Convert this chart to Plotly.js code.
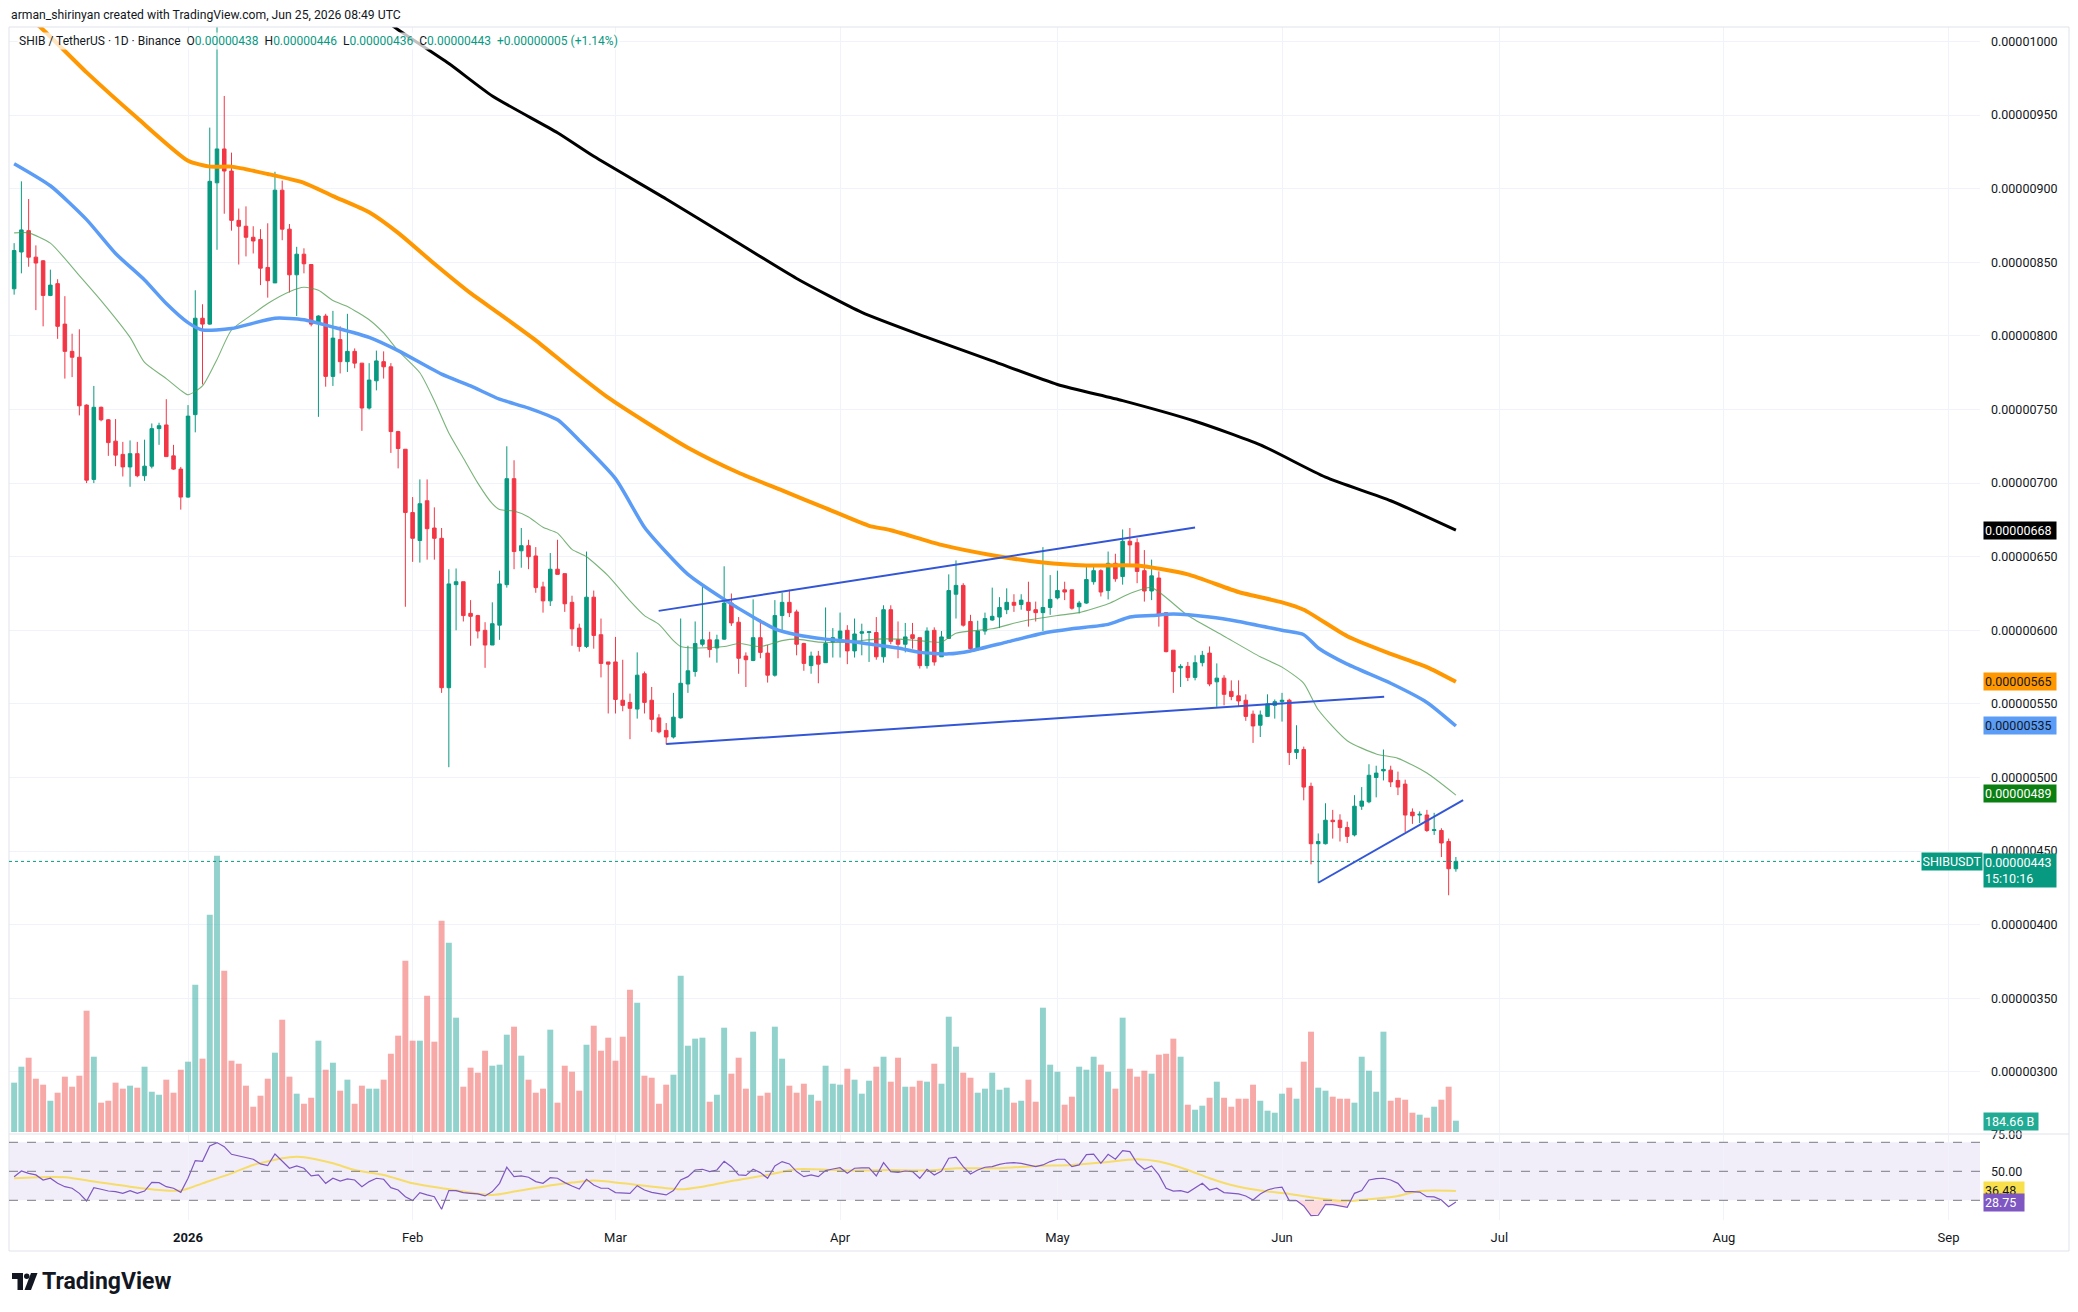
<!DOCTYPE html>
<html><head><meta charset="utf-8">
<script src="https://cdn.plot.ly/plotly-3.0.1.min.js"></script>
<style>html,body{margin:0;padding:0;background:#fff;}#chart{width:2078px;height:1312px;}</style>
</head><body><div id="chart"></div>
<script>
// ---- DATA (prices in units of 1e-8 USDT) ----
const UNIT = 1e-8;
const START_DATE = [2025, 11, 8]; // 2025-12-08, one candle per day
const openP = [832,857,871.5,853.5,851,827.5,835.5,808,789.5,785.5,753,702.5,751.5,743,728.5,719.5,711,720,705,711.5,737,739.5,718.5,709.5,690.5,746.5,812,808,904,927,912,878.5,874.5,867,865.5,846.5,836,899,872.5,841.5,855.5,848.5,809,813.5,772.5,797.5,782.5,789.5,781.5,751,769.5,782.5,779,735,723,680,661,688,669.5,662.5,561,631,633,611.5,610,600,590,603.5,631,703,654,657.5,650.5,629.5,620,641.5,638.5,619,601.5,589,622.5,597,578.5,578.5,552.5,551,546.5,570.5,552.5,540.5,532,527.5,540.5,563.5,572,590.5,593.5,588,594,618.5,605.5,582.5,579.5,595,584.5,569.5,610,619,612.5,591,576,582.5,578,592,594.5,600,586,598,598.5,598.5,582,614,593.5,590.5,597,595,576,600,582,594.5,624.5,630.5,606,587.5,599.5,607,609,614,619,617.5,619,614,612,615.5,622,627.5,627.5,616,618.5,633,640.5,627,645.5,636.5,660.5,659.5,640.5,626.7,635.5,612,586.5,574.5,575.5,568,578,584.5,565,567.5,558.5,555.5,552.5,543,535.5,541.5,549,551.5,552.5,517,519,494,455,455,471,471,466,461,480.5,483.5,500,504.5,505,498,495.5,476.5,474.5,474.5,464,464,456.5,438];
const highP = [863,905,893,861.5,851.5,845,838.5,827,801.5,804.5,753.5,766,752,743.5,743.5,728,729,728,729.5,740.5,741,757,726,711,753,831,821.5,941.5,1012,963,924.5,886.5,888,874.5,872.5,876.5,911.5,905.5,876,860.5,859.5,848.5,814,815,817,806.5,815,791.5,781.5,781.5,790,789.5,781.5,735.5,723,690.5,702.5,702.5,683.5,669.5,641.5,642,633,620.5,610.5,605.5,619,640.5,725,715.5,669.5,661.5,656.5,633,652.5,661.5,638.5,623.5,604.5,653.5,627,608,578.5,595.5,580,557,585,572,561.5,543,537,557.5,608,589.5,606,629.5,599,597,643.5,625,609,585,621,607.5,590,620.5,625.5,627.5,614,591.5,585.5,586,615.5,601.5,612,603.5,608,604.5,599.5,609,617,617,606,605,605,595,602,602,599.5,638,647.5,632,610.5,606.5,612,629,622.5,628.5,624.5,624.5,633,619.5,656.5,637.5,640.5,633,627.5,620,643,644.5,641.5,653.5,652,668.5,669.5,662.5,654.5,648,640,612,586.5,577,578.5,583,586,589,577.5,569.5,566,566,556.5,545.5,545.5,556.5,553,557.5,553.5,535.5,521,496.5,462,482.5,478,475,470,488,493.5,509,508,519,508,504,498.5,479,477,478,476,465.5,458.5,446];
const lowP = [828,842.5,847,817.5,806.5,827,798,771,772,746,700,700,742,718.5,711.5,704.5,697.5,704,701.5,710,726,718,709,682,690,734.5,767,807.5,858.5,883,871.5,848.5,854,856,834.5,826,836,865,829.5,813.5,842.5,806.5,745,765.5,766,774.5,775.5,778,735.5,750,763,771,720.5,710,616,646.5,646,648,648,557.5,507,600,606,589.5,594.5,574.5,590,593.5,629,641.5,642.5,641.5,625.5,612,616.5,638,612.5,589.5,585.5,588,587.5,568,543.5,543.5,545,526,540,543.5,531,530,522.5,526.5,540,557.5,568.5,589,581.5,578,593.5,603,570.5,561.5,579,581,564.5,568.5,599,609,583,572.5,570.5,564,578,581.5,581.5,577,581.5,583,578.5,580,578,590.5,581,585,587.5,574,574,576,582,594.5,608,602.5,585.5,586,597,606.5,601.5,611,612.5,614,602.5,606,599.5,610.5,621,620.5,614,611.5,618,631,623,621,633,631,645,632,619.5,620.5,602.5,585,557.5,561.5,565.5,566,575.5,562,548,549,552.5,548,538.5,523.5,527.5,541.5,540,538,508.5,512.5,484.5,441,428.5,454.5,458.5,456.5,455.5,460,478,482.5,486.5,498,493.5,488,463,468.5,469,463,461,446,420,436];
const closeP = [858,872,853.5,849.5,827.5,834.5,806.5,789.5,785.5,752.5,702,751.5,743,727.5,719,711,720,705,711.5,737,739,718,709.5,690.5,745.5,812,808,905,927,912,878.5,874.5,867,864.5,846,837.5,899,872.5,841.5,855.5,849,808,813.5,772.5,798.5,782.5,789.5,781.5,751,770,783,779,735,723.5,680,662.5,686,669,662.5,561,631.5,633,610,609.5,599.5,590,604.5,631.5,703,653.5,657.5,650,629,620,641.5,638,618,601,589,622.5,596.5,577.5,577,553,549,547,569.5,551,539.5,531,527.5,541,564,572.5,591,593.5,587,593.5,618.5,605,581,580,595,585,569.5,610,619,612,590.5,577.5,582.5,577,591,595,599.5,586,597.5,599,599,582,614,592.5,590.5,595.5,594.5,576,599.5,578.5,595.5,627,630.5,603.5,587.5,599.5,608,609.5,615.5,619,617,620.5,613.5,612,615.5,621,627,626,615,618.5,634.5,640.5,626,645.5,635,660.5,658,640,626.7,637,611,585.5,572,575.5,568,578,583,563.5,567.5,556.5,555,552,541.5,535,542.5,550,551.5,552.5,517,519,493.5,455,456.5,471,470,466,460,480.5,484,501.5,503,505.5,497,493.5,474.5,474,475,464,464.5,455.5,438,443];
// Volume in billions of SHIB
const volumeB = [806,1067,1214,871,773,511,642,904,740,920,1982,1230,479,511,806,708,757,724,1067,658,609,855,642,1018,1149,2407,1198,3551,4515,2636,1165,1116,757,413,593,871,1296,1835,904,626,462,560,1492,1018,1132,675,855,462,757,708,708,855,1279,1574,2799,1492,1492,2227,1476,3453,3093,1868,740,1051,969,1328,1083,1100,1590,1721,1247,855,642,708,1672,479,1083,985,675,1426,1737,1328,1541,1165,1557,2325,2113,920,887,462,773,936,2554,1410,1525,1541,495,609,1704,953,1214,708,1639,593,642,1721,1198,757,642,789,609,511,1083,789,773,1034,855,626,838,1067,1230,822,1214,740,740,838,822,1116,789,1884,1394,969,887,642,708,969,691,724,479,511,855,495,2031,1100,985,446,577,1067,1018,1230,1100,985,708,1868,1034,904,1002,953,1263,1279,1525,1230,446,364,430,560,822,560,413,544,544,773,511,348,315,626,724,544,1149,1639,724,675,577,544,544,479,1230,1002,658,1639,511,560,528,315,283,234,413,528,740,184.66];
// Moving averages read at sampled candle indices
const ma200Idx = [30,40,46,53,60,66,75,80,90,99,108,117,126,135,144,153,163,172,181,190,199];
const ma200Val = [1090,1055,1033,1008,985,963,938,922,893,866,839,816,799,783,767,756,742,726,704,688,668];
const ma100Idx = [0,4,10,17,24,27,30,35,40,44,49,53,58,63,67,72,77,82,87,93,100,106,112,118,121,128,135,142,148,155,162,169,175,178,184,190,195,199];
const ma100Val = [1025,1008,979,948,919,915,915,910,904,895,884,870,849,829,815,797,777,758,742,724,707,695,683,671,668,658,651,646,644,644,638,626,619,614,596,584,575,565];
const ma50Idx = [0,5,10,14,18,21,24,26,30,36,40,44,49,53,59,63,67,71,75,78,83,87,90,93,98,102,105,108,112,116,119,122,125,129,132,137,142,146,151,154,157,160,165,169,175,178,180,184,190,195,199];
const ma50Val = [917,902,879,856,838,822,809,804,805,812,811,806,799,790,774,766,757,751,743,729,703,670,653,638,621,609,601,597,594,592,590,588,585,584,586,592,598,601,604,609,610,611,609,606,600,597,588,577,564,551,535];
const ma20Idx = [0,2,5,9,12,16,18,21,23,24,26,28,30,33,35,38,40,42,44,46,49,51,53,56,58,60,62,64,66,67,69,71,73,75,77,79,82,85,87,89,91,92,94,98,100,103,106,108,111,115,119,122,125,128,130,135,139,144,147,151,154,157,162,167,172,175,178,180,184,188,191,195,199];
const ma20Val = [870,870,863,841,824,799,782,771,763,760,766,784,804,815,822,830,833,831,824,820,811,802,790,775,756,734,717,700,686,682,681,677,670,666,655,650,637,620,610,604,593,589,588,589,591,589,593,594,592,592,594,594,593,592,598,601,606,610,612,618,625,629,610,596,582,575,564,546,525,516,513,503,488];
// RSI (14) and its moving average
const rsi = [46.3,50.2,48.6,47.5,44,45.2,41.7,39.4,38.3,34.8,29.5,38.7,37.6,36.4,36,34.8,36.7,34.8,36.4,42.4,42.2,39.4,38.3,35.5,45.2,57.4,56.9,67.5,69.8,67,61.7,60.6,59.4,58.3,55.1,53.9,61.9,56.7,52.1,53.7,52.1,46.8,47.5,41.7,45.2,43.3,44.7,44,39.4,42.9,45.2,44.5,38.7,37.1,32.5,29.8,35.3,33.7,32.5,23.8,36.7,36.7,35.3,34.8,34.4,33,36,41.7,52.8,46.3,46.8,45.9,42.9,41.7,45.6,45.2,42.2,39.9,37.8,44.5,40.6,38.3,38.3,35.3,34.8,34.8,40.1,37.1,35.5,34.4,33.7,36.7,44,46.3,50.9,51.4,49.8,50.9,56.9,53.2,47.5,47.2,51.4,49.1,45.2,53.7,56.7,55.1,49.8,46.3,47.5,46.3,50.5,51.6,52.5,48.6,52.1,52.3,52.3,46.8,56,49.8,49.3,50.2,49.8,45.2,51.4,47.5,50.2,59,59.7,53.2,48.2,50.9,52.8,53.2,54.8,55.7,56,55.5,54.1,53.2,54.4,56.7,58.3,58.3,53.2,54.4,61.5,61.9,55.5,61.7,58.3,64.2,63.6,55.5,51.4,53.7,47.5,38.3,36.4,36.7,35.3,38.3,41.7,37.1,38.3,35.3,34.8,34.4,33,30.2,34.4,37.1,38.5,39,29.8,29.8,26.1,19.4,19.7,27.2,27,26.3,25.2,34.8,36.7,44,44.9,45.2,44,41.7,36,36,35.7,32.5,32.3,30.2,25.6,28.75];
const rsiMaIdx = [0,7,11,16,20,23,26,30,33,38,40,44,47,51,55,60,63,66,69,73,77,80,84,90,92,95,99,104,108,113,117,121,126,130,136,141,146,150,155,158,162,165,168,172,176,180,184,187,191,194,199];
const rsiMaVal = [45.2,45.9,42.9,39.4,37.1,36.7,41.7,48.6,54.4,59.7,59.7,55.5,50.9,47.5,41.7,37.6,35.3,33.7,36,39.4,42.2,43.6,41.7,38.3,37.6,39.4,43.3,47.5,51.4,50.9,50.5,50.9,50.5,52.1,52.1,53.7,54.4,56,58.3,56.7,50.9,45.2,40.6,36.7,34.4,31.4,29.5,30.7,33,36.4,36.48];
// Drawn trend lines: [startIdx, startPrice, endIdx, endPrice]
const trendUpper = [88.96, 613.2, 163.0, 669.9];
const trendLower = [90.0, 522.8, 189.1, 554.9];
const trendSupport = [180.0, 428.5, 200.0, 484.7];
const monthTicks = ['2026-01-01','2026-02-01','2026-03-01','2026-04-01','2026-05-01','2026-06-01','2026-07-01','2026-08-01','2026-09-01'];
const monthLabels = ['<b>2026</b>','Feb','Mar','Apr','May','Jun','Jul','Aug','Sep'];
const priceTicks = [300,350,400,450,500,550,600,650,700,750,800,850,900,950,1000];
const lastPrice = 443, ma200Last = 668, ma100Last = 565, ma50Last = 535, ma20Last = 489;
const lastVolumeLabel = '184.66 B', rsiLast = 28.75, rsiMaLast = 36.48;
const oversoldLevel = 30, overboughtLevel = 70, rsiMid = 50;
const oversoldSpan = [176, 184]; // candles where RSI sits under 30

// ---- helpers ----
const W = 2078, H = 1312;
const px = v => v / W;
const py = v => 1 - v / H;
function dateAt(k) {
  const ms = Date.UTC(START_DATE[0], START_DATE[1], START_DATE[2]) + k * 86400000;
  return new Date(ms).toISOString().slice(0, 19).replace('T', ' ');
}
const N = closeP.length;
const dates = Array.from({length: N}, (_, i) => dateAt(i));
const sc = a => a.map(v => v * UNIT);

const GREEN = '#089981', RED = '#f23645';
const traces = [];
traces.push({
  type: 'bar', x: dates, y: volumeB, yaxis: 'y2', xaxis: 'x',
  marker: {color: closeP.map((c, i) => c >= openP[i] ? 'rgba(38,166,154,0.5)' : 'rgba(239,83,80,0.5)'), line: {width: 0}},
  width: 0.82 * 86400000, hoverinfo: 'skip'
});
function maTrace(idx, val, color, width, opacity) {
  return {type: 'scatter', mode: 'lines', x: idx.map(dateAt), y: sc(val), xaxis: 'x', yaxis: 'y',
    line: {color: color, width: width, shape: 'spline', smoothing: 0.6}, opacity: opacity || 1, hoverinfo: 'skip'};
}
traces.push(maTrace(ma20Idx, ma20Val, '#4c9a4c', 1.1, 0.75));
traces.push(maTrace(ma50Idx, ma50Val, '#5b9cf6', 3.5));
traces.push(maTrace(ma100Idx, ma100Val, '#ff9800', 4));
traces.push(maTrace(ma200Idx, ma200Val, '#000000', 3));
traces.push({
  type: 'candlestick', x: dates, open: sc(openP), high: sc(highP), low: sc(lowP), close: sc(closeP),
  xaxis: 'x', yaxis: 'y', whiskerwidth: 0,
  increasing: {line: {color: GREEN, width: 1}, fillcolor: GREEN},
  decreasing: {line: {color: RED, width: 1}, fillcolor: RED},
  hoverinfo: 'skip'
});
// RSI oversold fill
const osIdx = [];
for (let k = oversoldSpan[0]; k <= oversoldSpan[1]; k++) osIdx.push(k);
traces.push({type: 'scatter', mode: 'lines', x: osIdx.map(dateAt), y: osIdx.map(() => oversoldLevel), xaxis: 'x', yaxis: 'y3',
  line: {width: 0}, hoverinfo: 'skip'});
traces.push({type: 'scatter', mode: 'lines', x: osIdx.map(dateAt), y: osIdx.map(k => rsi[k]), xaxis: 'x', yaxis: 'y3',
  line: {width: 0}, fill: 'tonexty', fillcolor: 'rgba(242,54,69,0.18)', hoverinfo: 'skip'});
traces.push({type: 'scatter', mode: 'lines', x: rsiMaIdx.map(dateAt), y: rsiMaVal, xaxis: 'x', yaxis: 'y3',
  line: {color: 'rgba(247,216,80,0.85)', width: 2, shape: 'spline', smoothing: 0.8}, hoverinfo: 'skip'});
traces.push({type: 'scatter', mode: 'lines', x: dates, y: rsi, xaxis: 'x', yaxis: 'y3',
  line: {color: '#7e57c2', width: 1.2}, hoverinfo: 'skip'});

// ---- geometry ----
const plotL = 9, plotR = 1980, paneTop = 27, paneBot = 1133, rsiTop = 1135, rsiBot = 1220;
const pxPerUnit = 1.472, y1000 = 41.5;
const priceAt = y => (1000 - (y - y1000) / pxPerUnit) * UNIT;
const rsiAt = y => 50 - (y - 1171.3) / 1.45;
const volPerPx = 16.34, volBase = 1132;

const shapes = [];
const lineCol = '#e0e3eb';
shapes.push({type: 'rect', xref: 'paper', yref: 'paper', x0: px(9), x1: px(2069), y0: py(1251), y1: py(27), line: {color: lineCol, width: 1}});
shapes.push({type: 'line', xref: 'paper', yref: 'paper', x0: px(9), x1: px(2069), y0: py(1134), y1: py(1134), line: {color: lineCol, width: 1}});
shapes.push({type: 'rect', xref: 'x domain', yref: 'y3', x0: 0, x1: 1, y0: oversoldLevel, y1: overboughtLevel, fillcolor: 'rgba(126,87,194,0.1)', line: {width: 0}, layer: 'below'});
[overboughtLevel, rsiMid, oversoldLevel].forEach(l => shapes.push({type: 'line', xref: 'x domain', yref: 'y3', x0: 0, x1: 1, y0: l, y1: l, line: {color: '#787b86', width: 1, dash: 'dash'}}));
shapes.push({type: 'line', xref: 'x domain', yref: 'y', x0: 0, x1: 1, y0: lastPrice * UNIT, y1: lastPrice * UNIT, line: {color: GREEN, width: 1, dash: 'dot'}});
[trendUpper, trendLower, trendSupport].forEach(t => shapes.push({type: 'line', xref: 'x', yref: 'y',
  x0: dateAt(t[0]), y0: t[1] * UNIT, x1: dateAt(t[2]), y1: t[3] * UNIT, line: {color: '#3256d6', width: 2}}));
// TradingView logo
const dark = '#131722';
shapes.push({type: 'rect', xref: 'paper', yref: 'paper', x0: px(12), x1: px(23), y0: py(1279), y1: py(1273), fillcolor: dark, line: {width: 0}});
shapes.push({type: 'rect', xref: 'paper', yref: 'paper', x0: px(17.5), x1: px(23), y0: py(1290), y1: py(1273), fillcolor: dark, line: {width: 0}});
shapes.push({type: 'circle', xref: 'paper', yref: 'paper', x0: px(24), x1: px(29.5), y0: py(1279), y1: py(1273.5), fillcolor: dark, line: {width: 0}});
shapes.push({type: 'path', xref: 'paper', yref: 'paper', path: `M ${px(24.5)} ${py(1290)} L ${px(31)} ${py(1273)} L ${px(37.5)} ${py(1273)} L ${px(31)} ${py(1290)} Z`, fillcolor: dark, line: {width: 0}});

const FONT = 'Roboto, "Noto Sans", Arial, sans-serif';
const ann = [];
ann.push({xref: 'paper', yref: 'paper', x: px(9), y: py(15), xanchor: 'left', yanchor: 'middle', showarrow: false,
  text: 'arman_shirinyan created with TradingView.com, Jun 25, 2026 08:49 UTC', font: {family: FONT, size: 12.2, color: dark}});
const g = s => `<span style="color:${GREEN}">${s}</span>`;
ann.push({xref: 'paper', yref: 'paper', x: px(17), y: py(41.5), xanchor: 'left', yanchor: 'middle', showarrow: false,
  text: `SHIB / TetherUS · 1D · Binance&nbsp;&nbsp;O${g('0.00000438')}&nbsp;&nbsp;H${g('0.00000446')}&nbsp;&nbsp;L${g('0.00000436')}&nbsp;&nbsp;C${g('0.00000443')}&nbsp;&nbsp;${g('+0.00000005 (+1.14%)')}`,
  font: {family: FONT, size: 12, color: dark}, bgcolor: 'rgba(255,255,255,0.75)'});
ann.push({xref: 'paper', yref: 'paper', x: px(40), y: py(1281), xanchor: 'left', yanchor: 'middle', showarrow: false,
  text: '<b>TradingView</b>', font: {family: FONT, size: 23, color: dark}});
function tag(yref, y, text, bg, fg, w, extra) {
  return Object.assign({xref: 'paper', yref: yref, x: px(1983), y: y, xanchor: 'left', yanchor: 'middle', showarrow: false,
    text: text, bgcolor: bg, font: {family: FONT, size: 12.5, color: fg}, borderpad: 1, width: w, align: 'left'}, extra || {});
}
ann.push(tag('y', ma200Last * UNIT, '0.00000668', '#000000', '#ffffff', 70));
ann.push(tag('y', ma100Last * UNIT, '0.00000565', '#ff9800', dark, 70));
ann.push(tag('y', ma50Last * UNIT, '0.00000535', '#5b9cf6', dark, 70));
ann.push(tag('y', ma20Last * UNIT, '0.00000489', '#0b7f12', '#ffffff', 70));
ann.push(tag('y', lastPrice * UNIT, '0.00000443<br>15:10:16', GREEN, '#ffffff', 70, {yanchor: 'top', yshift: 8}));
ann.push(Object.assign(tag('y', lastPrice * UNIT, 'SHIBUSDT', GREEN, '#ffffff', 58), {x: px(1921), align: 'center'}));
ann.push(tag('paper', py(1121.5), lastVolumeLabel, '#22ab94', '#ffffff', 52));
ann.push(tag('y3', rsiMaLast, '36.48', '#f7e04b', dark, 38));
ann.push(tag('y3', rsiLast, '28.75', '#7e57c2', '#ffffff', 38));

const layout = {
  width: W, height: H, margin: {l: 0, r: 0, t: 0, b: 0},
  paper_bgcolor: '#ffffff', plot_bgcolor: '#ffffff', showlegend: false,
  font: {family: FONT, size: 13, color: dark},
  xaxis: {type: 'date', domain: [px(plotL), px(plotR)], range: ['2025-12-07 06:58', '2026-09-05 08:10'], anchor: 'y3',
    rangeslider: {visible: false}, showgrid: true, gridcolor: '#f0f3fa', gridwidth: 1, zeroline: false, showline: false,
    tickmode: 'array', tickvals: monthTicks, ticktext: monthLabels, ticks: '', tickfont: {family: FONT, size: 13, color: dark},
    ticklabelstandoff: 8, fixedrange: true},
  yaxis: {domain: [py(paneBot), py(paneTop)], range: [priceAt(paneBot), priceAt(paneTop)], anchor: 'x', side: 'right',
    tickmode: 'array', tickvals: priceTicks.map(v => v * UNIT), ticktext: priceTicks.map(v => (v * UNIT).toFixed(8)),
    showgrid: true, gridcolor: '#f0f3fa', zeroline: false, showline: false, ticks: '',
    tickfont: {family: FONT, size: 12.5, color: dark}, ticklabelstandoff: 10},
  yaxis2: {overlaying: 'y', anchor: 'x', range: [(volBase - paneBot) * volPerPx, (volBase - paneTop) * volPerPx], visible: false, showgrid: false, zeroline: false},
  yaxis3: {domain: [py(rsiBot), py(rsiTop)], range: [rsiAt(rsiBot), rsiAt(rsiTop)], anchor: 'x', side: 'right',
    tickmode: 'array', tickvals: [50, 75], ticktext: ['50.00', '75.00'], showgrid: false, zeroline: false, ticks: '',
    tickfont: {family: FONT, size: 12.5, color: dark}, ticklabelstandoff: 10},
  shapes: shapes, annotations: ann
};
Plotly.newPlot('chart', traces, layout, {staticPlot: true, displayModeBar: false});
</script></body></html>
